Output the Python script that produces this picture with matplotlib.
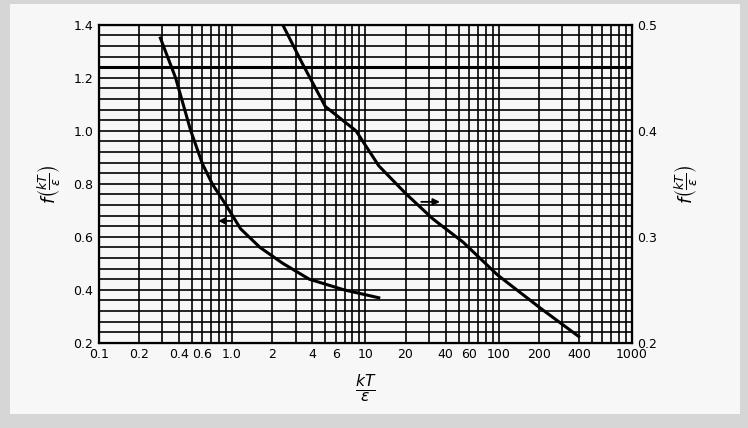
import numpy as np
import matplotlib
matplotlib.use("Agg")
import matplotlib.pyplot as plt
from matplotlib.patches import Rectangle

# left curve (left axis)
x_left = [0.29, 0.377, 0.49, 0.6, 0.71, 0.9, 1.16, 1.62, 2.4, 3.8, 6.9, 12.6]
y_left = [1.35, 1.2, 1.0, 0.875, 0.8, 0.72, 0.63, 0.56, 0.5, 0.44, 0.40, 0.37]
# right curve (right axis)
x_right = [2.4, 3.35, 5.0, 8.5, 12.6, 20, 32, 54, 98, 204, 398]
y_right = [0.5, 0.464, 0.423, 0.4, 0.367, 0.341, 0.317, 0.295, 0.264, 0.233, 0.206]

xticks = [0.1, 0.2, 0.4, 0.6, 1.0, 2, 4, 6, 10, 20, 40, 60, 100, 200, 400, 1000]
xticklabels = ["0.1", "0.2", "0.4", "0.6", "1.0", "2", "4", "6", "10", "20", "40", "60", "100", "200", "400", "1000"]
lticks = [0.2, 0.4, 0.6, 0.8, 1.0, 1.2, 1.4]
rticks = [0.2, 0.3, 0.4, 0.5]

fig = plt.figure(figsize=(7.48, 4.28), dpi=100, facecolor="#d6d6d6")
fig.patches.append(Rectangle((10/748, 14/428), 730/748, 410/428, transform=fig.transFigure,
                             facecolor="#f7f7f7", edgecolor="none", zorder=-1))
ax = fig.add_axes([0.132, 0.199, 0.713, 0.743])
ax.set_facecolor("#f7f7f7")
ax.set_xscale("log")
ax.set_xlim(0.1, 1000)
ax.set_ylim(0.2, 1.4)

for dec in [0.1, 1, 10, 100]:
    for m in range(1, 10):
        ax.axvline(dec * m, color="black", lw=1.2, zorder=1)
for yv in np.arange(0.2, 1.4001, 0.04):
    ax.axhline(yv, color="black", lw=1.2, zorder=1)
ax.axhline(1.24, color="black", lw=2.2, zorder=1)

ax.set_xticks(xticks)
ax.set_xticklabels(xticklabels)
ax.xaxis.set_minor_locator(matplotlib.ticker.NullLocator())
ax.set_yticks(lticks)
ax.set_yticklabels([f"{v:.1f}" for v in lticks])
ax.tick_params(length=0, labelsize=9, pad=4)
for s in ax.spines.values():
    s.set_linewidth(1.6)

ax.plot(x_left, y_left, color="black", lw=2.2, zorder=3, solid_joinstyle="round")

ax2 = ax.twinx()
ax2.set_ylim(0.2, 0.5)
ax2.set_yticks(rticks)
ax2.set_yticklabels([f"{v:.1f}" for v in rticks])
ax2.tick_params(length=0, labelsize=9, pad=4)
ax2.plot(x_right, y_right, color="black", lw=2.2, zorder=3, solid_joinstyle="round")

ax.annotate("", xy=(0.75, 0.66), xytext=(1.05, 0.66),
            arrowprops=dict(arrowstyle="-|>", color="black", lw=1.3), zorder=4)
ax2.annotate("", xy=(38, 0.333), xytext=(25, 0.333),
             arrowprops=dict(arrowstyle="-|>", color="black", lw=1.3), zorder=4)

lab = r"$f\left(\frac{kT}{\varepsilon}\right)$"
ax.set_ylabel(lab, fontsize=13, labelpad=8)
ax2.set_ylabel(lab, fontsize=13, labelpad=10)
ax.set_xlabel(r"$\frac{kT}{\varepsilon}$", fontsize=16, labelpad=8)

fig.savefig("out.png", dpi=100, facecolor=fig.get_facecolor())
